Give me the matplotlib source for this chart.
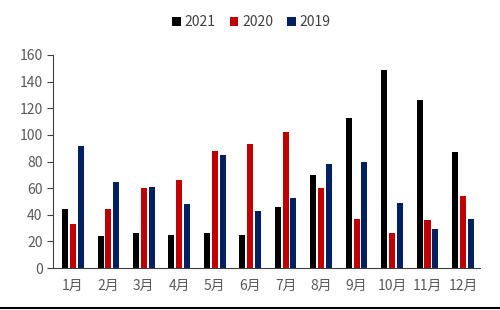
import numpy as np
from matplotlib import pyplot as plt
from matplotlib.lines import Line2D

plt.rcParams['font.family'] = ['Noto Sans CJK SC', 'DejaVu Sans']

months = ["1月", "2月", "3月", "4月", "5月", "6月", "7月", "8月", "9月", "10月", "11月", "12月"]
v2021 = [44, 24, 26, 25, 26, 25, 46, 70, 113, 149, 126, 87]
v2020 = [33, 44, 60, 66, 88, 93, 102, 60, 37, 26, 36, 54]
v2019 = [92, 65, 61, 48, 85, 43, 53, 78, 80, 49, 29, 37]
series = [("2021", v2021, "#000000"), ("2020", v2020, "#C00000"), ("2019", v2019, "#002060")]
yticks = [0, 20, 40, 60, 80, 100, 120, 140, 160]

fig = plt.figure(figsize=(5.0, 3.1), dpi=100)
ax = fig.add_axes([0.106, 0.135, 0.854, 0.688])

x = np.arange(len(months))
for i, (name, vals, color) in enumerate(series):
    ax.bar(x + (i - 1) * 0.22, vals, width=0.17, color=color, label=name)

ax.set_xlim(-0.56, 11.48)
ax.set_ylim(0, 160)
ax.set_yticks(yticks)
ax.set_xticks(x)
ax.set_xticklabels(months)

for side in ["top", "right"]:
    ax.spines[side].set_visible(False)
ax.spines["left"].set_color("#404040")
ax.spines["bottom"].set_color("#404040")
ax.tick_params(axis="y", colors="#595959", labelsize=10, length=4, color="#404040")
ax.tick_params(axis="x", colors="#595959", labelsize=10, length=0, pad=8)

ax.legend(loc="center", bbox_to_anchor=(0.465, 1.154), ncol=3, frameon=False,
          fontsize=10, handlelength=0.6, handleheight=0.6, handletextpad=0.3,
          columnspacing=1.0, labelcolor="#404040")

fig.add_artist(Line2D([0, 1], [0.008, 0.008], color="black", linewidth=1.5,
                      transform=fig.transFigure))

plt.savefig("out.png", dpi=100)
plt.close('all')
